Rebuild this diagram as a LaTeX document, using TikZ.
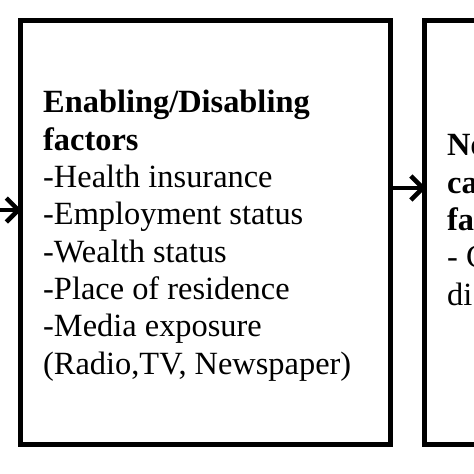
\documentclass[tikz,border=0pt]{standalone}
\usepackage{fontspec}
\setmainfont{Liberation Serif}
\usetikzlibrary{arrows.meta}

\begin{document}
\begin{tikzpicture}[x=1pt,y=-1pt,
	box/.style={draw=black,line width=5pt,minimum width=370pt,minimum height=424pt},
	txt/.style={align=left,anchor=base west,inner sep=0pt,font=\fontsize{32.4}{37.3}\selectfont},
	link/.style={line width=4.5pt,-{Straight Barb[length=12pt,width=24pt]},shorten >=-4pt}]
	\useasboundingbox (0,0) rectangle (474,474);
	
	% enabling / disabling
	
	\node[box] (B1) at (205,232) {};
	\node[txt] (T1) at (43,374) {\textbf{Enabling/Disabling}\\\textbf{factors}\\-Health insurance\\-Employment status\\-Wealth status\\-Place of residence\\-Media exposure\\(Radio,TV, Newspaper)};
	
	% need for care
	
	\node[box] (B2) at (609.5,232) {};
	\node[txt] (T2) at (447,305) {\textbf{Ne}\\\textbf{ca}\\\textbf{fa}\\- C\\di};
	
	\coordinate (S) at (0,210);
	\draw[link] (S) -- (S -| B1.west);
	\draw[link] (B1.east |- 0,188) -- (B2.west |- 0,188);
	
\end{tikzpicture}
\end{document}
